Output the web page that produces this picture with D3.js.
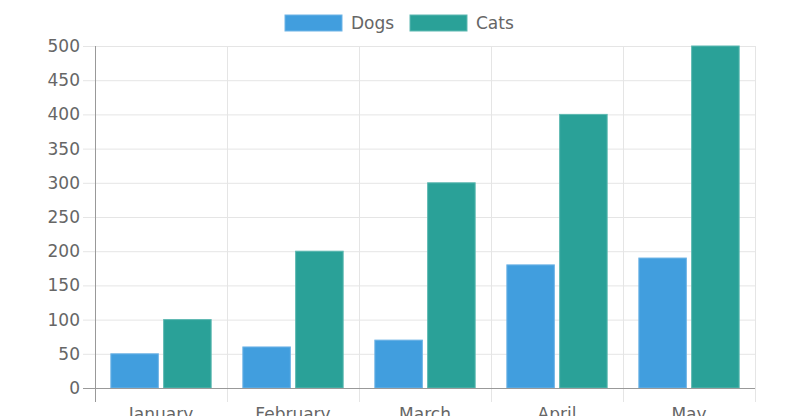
<!DOCTYPE html>
<html><head><meta charset="utf-8">
<script src="https://cdn.jsdelivr.net/npm/d3@7"></script>
<style>body{margin:0;background:#fff}svg{display:block;font-family:"DejaVu Sans",sans-serif}</style>
</head><body><svg id="c" width="800" height="416"></svg>
<script>
const months = ["January","February","March","April","May"];
const dogs = [50,60,70,180,190];
const cats = [100,200,300,400,500];
const seriesNames = ["Dogs","Cats"];
const yTicks = [0,50,100,150,200,250,300,350,400,450,500];
const colors = ["#419ede","#2aa198"];
const borders = ["#6fb4e6","#5cb8b1"];

const svg = d3.select("#c");
const L=95,R=755,T=46,B=388;
const x = d3.scaleBand().domain(months).range([L,R]).paddingInner(0).paddingOuter(0);
const x1 = d3.scaleBand().domain(seriesNames).range([0,x.bandwidth()*0.8]).paddingInner(0.1).paddingOuter(0.05);
const y = d3.scaleLinear().domain([0,500]).range([B,T]);

// horizontal grid
svg.append("g").selectAll("line").data(yTicks).join("line")
  .attr("x1",83).attr("x2",R).attr("y1",d=>y(d)+0.5).attr("y2",d=>y(d)+0.5)
  .attr("stroke",d=>d===0?"#999":"#e5e5e5").attr("stroke-width",1);
// vertical grid
const vx = months.map(m=>x(m)).concat([R]);
svg.append("g").selectAll("line").data(vx).join("line")
  .attr("x1",d=>Math.round(d)+0.5).attr("x2",d=>Math.round(d)+0.5).attr("y1",T).attr("y2",402)
  .attr("stroke",(d,i)=>i===0?"#999":"#e5e5e5");

// bars
const data = months.map((m,i)=>({m, vals:[dogs[i],cats[i]]}));
const g = svg.append("g");
data.forEach(d=>{
  d.vals.forEach((v,j)=>{
    const bx = x(d.m)+x.bandwidth()*0.1+x1(seriesNames[j]);
    g.append("rect").attr("x",bx).attr("width",x1.bandwidth())
      .attr("y",y(v)).attr("height",B-y(v)).attr("fill",colors[j])
      .attr("stroke",borders[j]).attr("stroke-width",1);
  });
});
// redraw baseline
svg.append("line").attr("x1",83).attr("x2",R).attr("y1",B+0.5).attr("y2",B+0.5).attr("stroke","#999");

// y labels
svg.append("g").selectAll("text").data(yTicks).join("text")
  .attr("x",80).attr("y",d=>y(d)).attr("dy","0.35em").attr("text-anchor","end")
  .attr("font-size",17).attr("fill","#666").text(d=>d);
// x labels
svg.append("g").selectAll("text").data(months).join("text")
  .attr("x",d=>x(d)+x.bandwidth()/2).attr("y",420).attr("text-anchor","middle")
  .attr("font-size",17).attr("fill","#666").text(d=>d);

// legend
const lg = svg.append("g");
const lx = [285,410];
seriesNames.forEach((s,i)=>{
  lg.append("rect").attr("x",lx[i]).attr("y",15).attr("width",57).attr("height",16)
    .attr("fill",colors[i]).attr("stroke",borders[i]);
  lg.append("text").attr("x",lx[i]+66).attr("y",23).attr("dy","0.35em")
    .attr("font-size",17).attr("fill","#666").text(s);
});
</script></body></html>
